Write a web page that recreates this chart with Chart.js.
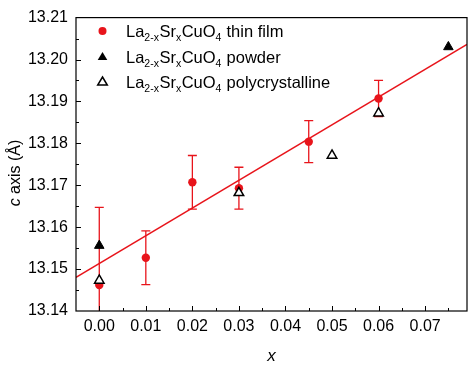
<!DOCTYPE html>
<html>
<head>
<meta charset="utf-8">
<script src="https://cdn.jsdelivr.net/npm/chart.js@4/dist/chart.umd.min.js"></script>
<style>
  html, body { margin:0; padding:0; background:#fff; }
  #wrap { width:474px; height:366px; position:relative; }
</style>
</head>
<body>
<div id="wrap"><canvas id="c"></canvas></div>
<script>
/* values */
const filmX = [0.000, 0.010, 0.020, 0.030, 0.045, 0.060];
const filmY = [13.1462, 13.1527, 13.1707, 13.1693, 13.1804, 13.1907];
const filmErr = [0.0185, 0.0064, 0.0064, 0.0050, 0.0050, 0.0043];

const powderX = [0.000, 0.075];
const powderY = [13.1556, 13.2030];

const polyX = [0.000, 0.030, 0.050, 0.060];
const polyY = [13.1473, 13.1682, 13.1771, 13.1872];

const fitX = [-0.005, 0.079];
const fitY = [13.1480, 13.2036];

const xTickVals = [0.00, 0.01, 0.02, 0.03, 0.04, 0.05, 0.06, 0.07];
const yTickVals = [13.14, 13.15, 13.16, 13.17, 13.18, 13.19, 13.20, 13.21];

const legendNames = ["thin film", "powder", "polycrystalline"];

const FONT = "'Liberation Sans', Arial, Helvetica, sans-serif";
const RED = "#e8141b";

function pts(xs, ys){
    return xs.map((x,i) => ({x:x, y:ys[i]}));
}

/* error bars, drawn under the markers */
const errorBars = {
    id:'errorBars',
    beforeDatasetsDraw(chart){
        const ctx = chart.ctx, a = chart.chartArea;
        const xs = chart.scales.x, ys = chart.scales.y;
        ctx.save();
        ctx.beginPath();
        ctx.rect(a.left, a.top, a.right-a.left, a.bottom-a.top);
        ctx.clip();
        ctx.strokeStyle = RED;
        ctx.lineWidth = 1.3;
        filmX.forEach((x,i) => {
            const px = xs.getPixelForValue(x);
            const top = ys.getPixelForValue(filmY[i] + filmErr[i]);
            const bot = ys.getPixelForValue(filmY[i] - filmErr[i]);
            ctx.beginPath();
            ctx.moveTo(px, top); ctx.lineTo(px, bot);
            ctx.moveTo(px-4.5, top); ctx.lineTo(px+4.5, top);
            ctx.moveTo(px-4.5, bot); ctx.lineTo(px+4.5, bot);
            ctx.stroke();
        });
        ctx.restore();
    }
};

/* frame, inward ticks, y title and the legend with subscripts */
const decor = {
    id:'decor',
    afterDraw(chart){
        const ctx = chart.ctx, a = chart.chartArea;
        const xs = chart.scales.x, ys = chart.scales.y;
        ctx.save();
        ctx.strokeStyle = "#000";
        ctx.lineWidth = 1.2;
        ctx.strokeRect(a.left, a.top, a.right-a.left, a.bottom-a.top);

        ctx.lineWidth = 1;
        ctx.beginPath();
        for(let v = -0.005; v <= 0.0791; v += 0.005){
            const px = Math.round(xs.getPixelForValue(v)) + 0.5;
            if(px <= a.left+1 || px >= a.right-1) continue;
            const major = Math.abs(v*100 - Math.round(v*100)) < 1e-6;
            ctx.moveTo(px, a.bottom);
            ctx.lineTo(px, a.bottom - (major ? 5 : 3));
        }
        for(let v = 13.14; v <= 13.2101; v += 0.005){
            const py = Math.round(ys.getPixelForValue(v)) + 0.5;
            if(py <= a.top+1 || py >= a.bottom-1) continue;
            const major = Math.abs(v*100 - Math.round(v*100)) < 1e-6;
            ctx.moveTo(a.left, py);
            ctx.lineTo(a.left + (major ? 5 : 3), py);
        }
        ctx.stroke();

        // y axis title: italic c
        ctx.save();
        ctx.translate(20, 173);
        ctx.rotate(-Math.PI/2);
        ctx.fillStyle = "#000";
        ctx.textBaseline = "alphabetic";
        const t1 = "c", t2 = " axis (Å)";
        ctx.font = "italic 16px " + FONT;
        const w1 = ctx.measureText(t1).width;
        ctx.font = "16px " + FONT;
        const w2 = ctx.measureText(t2).width;
        let sx = -(w1+w2)/2;
        ctx.font = "italic 16px " + FONT;
        ctx.fillText(t1, sx, 0);
        ctx.font = "16px " + FONT;
        ctx.fillText(t2, sx + w1, 0);
        ctx.restore();

        // legend
        const rows = [31, 56.5, 81.5];
        const mx = 102.5, tx = 126;
        rows.forEach((cy,i) => {
            ctx.beginPath();
            if(i === 0){
                ctx.fillStyle = RED;
                ctx.arc(mx, cy, 4, 0, Math.PI*2);
                ctx.fill();
            } else {
                ctx.moveTo(mx, cy-4.5);
                ctx.lineTo(mx+4.8, cy+3.5);
                ctx.lineTo(mx-4.8, cy+3.5);
                ctx.closePath();
                if(i === 1){ ctx.fillStyle = "#000"; ctx.fill(); }
                else { ctx.lineWidth = 1.5; ctx.strokeStyle = "#000"; ctx.stroke(); }
            }
            const parts = [["La",0],["2-x",1],["Sr",0],["x",1],["CuO",0],["4",1],[" " + legendNames[i],0]];
            let x = tx;
            const base = cy + 6;
            ctx.fillStyle = "#000";
            parts.forEach(p => {
                ctx.font = (p[1] ? "10.5px " : "16.5px ") + FONT;
                ctx.fillText(p[0], x, base + (p[1] ? 4 : 0));
                x += ctx.measureText(p[0]).width + (p[1] ? 0.5 : 0);
            });
        });
        ctx.restore();
    }
};

new Chart(document.getElementById("c"), {
    type:'scatter',
    data:{
        datasets:[
            {
                type:'line',
                label:'fit',
                data:pts(fitX, fitY),
                borderColor:RED,
                borderWidth:1.5,
                pointRadius:0,
                fill:false,
                order:4
            },
            {
                label:'thin film',
                data:pts(filmX, filmY),
                pointStyle:'circle',
                pointRadius:4.2,
                backgroundColor:RED,
                borderColor:RED,
                borderWidth:0,
                order:3
            },
            {
                label:'powder',
                data:pts(powderX, powderY),
                pointStyle:'triangle',
                pointRadius:5.5,
                backgroundColor:'#000',
                borderColor:'#000',
                borderWidth:1,
                order:2
            },
            {
                label:'polycrystalline',
                data:pts(polyX, polyY),
                pointStyle:'triangle',
                pointRadius:5.5,
                backgroundColor:'#fff',
                borderColor:'#000',
                borderWidth:1.5,
                order:1
            }
        ]
    },
    options:{
        responsive:true,
        maintainAspectRatio:false,
        animation:false,
        layout:{ padding:{ top:12, right:7, bottom:0, left:0 } },
        plugins:{
            legend:{display:false},
            tooltip:{enabled:false}
        },
        scales:{
            x:{
                type:'linear',
                min:-0.005,
                max:0.079,
                grid:{display:false, drawTicks:false},
                border:{display:false},
                afterBuildTicks:(s) => { s.ticks = xTickVals.map(v => ({value:v})); },
                afterFit:(s) => { s.height = 55; },
                ticks:{
                    padding:6,
                    color:'#000',
                    font:{family:FONT, size:16},
                    maxRotation:0,
                    callback:(v) => Number(v).toFixed(2)
                },
                title:{
                    display:true,
                    text:'x',
                    color:'#000',
                    padding:{top:2, bottom:0},
                    font:{family:FONT, size:17, style:'italic'}
                }
            },
            y:{
                type:'linear',
                min:13.14,
                max:13.21,
                grid:{display:false, drawTicks:false},
                border:{display:false},
                afterBuildTicks:(s) => { s.ticks = yTickVals.map(v => ({value:v})); },
                afterFit:(s) => { s.width = 76; },
                ticks:{
                    padding:8,
                    color:'#000',
                    font:{family:FONT, size:16},
                    callback:(v) => Number(v).toFixed(2)
                }
            }
        }
    },
    plugins:[errorBars, decor]
});
</script>
</body>
</html>
